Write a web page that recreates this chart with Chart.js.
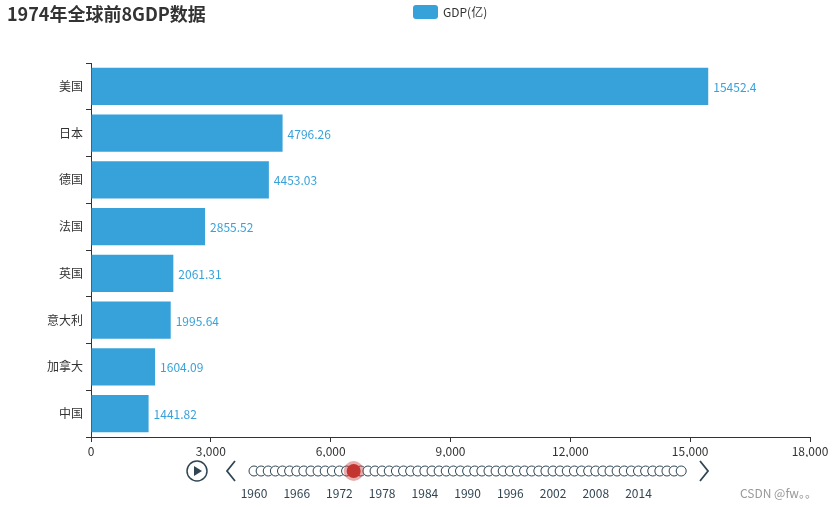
<!DOCTYPE html>
<html>
<head>
<meta charset="utf-8">
<script src="https://cdn.jsdelivr.net/npm/chart.js@4"></script>
<style>
    body { margin: 0; background: #fff; }
    #wrap { width: 837px; height: 507px; }
</style>
</head>
<body>
<div id="wrap"><canvas id="gdpChart" width="837" height="507"></canvas></div>
<script>
// 数据
const countries = ['美国', '日本', '德国', '法国', '英国', '意大利', '加拿大', '中国'];
const gdpValues = [15452.4, 4796.26, 4453.03, 2855.52, 2061.31, 1995.64, 1604.09, 1441.82];
const timelineYears = [];
for (let y = 1960; y <= 2020; y++) timelineYears.push(y);
const currentYear = 1974;

const FONT = '"Noto Sans CJK SC", "Microsoft YaHei", sans-serif';
const BAR_COLOR = '#37a2da';

// 标题、图例、数值标签、时间轴
const decorPlugin = {
    id: 'decor',
    afterDraw(chart) {
        const ctx = chart.ctx;
        ctx.save();

        ctx.fillStyle = '#333';
        ctx.font = 'bold 18px ' + FONT;
        ctx.textBaseline = 'middle';
        ctx.textAlign = 'left';
        ctx.fillText(currentYear + '年全球前8GDP数据', 7, 14);

        ctx.fillStyle = BAR_COLOR;
        ctx.beginPath();
        ctx.roundRect(413, 5, 25, 14, 3);
        ctx.fill();
        ctx.fillStyle = '#333';
        ctx.font = '12px ' + FONT;
        ctx.fillText('GDP(亿)', 443, 12);

        // 数值标签
        const meta = chart.getDatasetMeta(0);
        ctx.fillStyle = BAR_COLOR;
        meta.data.forEach((bar, i) => {
            ctx.fillText(String(gdpValues[i]), bar.x + 5, bar.y + 1);
        });

        // 时间轴
        const cy = 471;
        ctx.strokeStyle = '#304654';
        ctx.lineWidth = 1.5;
        ctx.beginPath();
        ctx.arc(197, cy, 10, 0, Math.PI * 2);
        ctx.stroke();
        ctx.fillStyle = '#304654';
        ctx.beginPath();
        ctx.moveTo(194, cy - 5);
        ctx.lineTo(202, cy);
        ctx.lineTo(194, cy + 5);
        ctx.closePath();
        ctx.fill();

        ctx.lineWidth = 1.8;
        ctx.beginPath();
        ctx.moveTo(235, cy - 10); ctx.lineTo(227, cy); ctx.lineTo(235, cy + 10);
        ctx.moveTo(700, cy - 10); ctx.lineTo(708, cy); ctx.lineTo(700, cy + 10);
        ctx.stroke();

        const x0 = 254, step = 7.12;
        ctx.lineWidth = 1;
        timelineYears.forEach((y, i) => {
            const x = x0 + i * step;
            ctx.fillStyle = '#fff';
            ctx.beginPath();
            ctx.arc(x, cy, 5, 0, Math.PI * 2);
            ctx.fill();
            ctx.stroke();
        });
        ctx.textAlign = 'center';
        ctx.font = '12px ' + FONT;
        ctx.fillStyle = '#304654';
        timelineYears.forEach((y, i) => {
            if ((y - 1960) % 6 === 0 && y <= 2014) {
                ctx.fillText(String(y), x0 + i * step, 493);
            }
        });
        const cx = x0 + timelineYears.indexOf(currentYear) * step;
        ctx.fillStyle = 'rgba(194, 53, 49, 0.4)';
        ctx.beginPath();
        ctx.arc(cx, cy, 10, 0, Math.PI * 2);
        ctx.fill();
        ctx.fillStyle = '#c23531';
        ctx.beginPath();
        ctx.arc(cx, cy, 7, 0, Math.PI * 2);
        ctx.fill();

        ctx.fillStyle = '#999';
        ctx.textAlign = 'left';
        ctx.fillText('CSDN @fw。。', 740, 493);
        ctx.restore();
    }
};

new Chart(document.getElementById('gdpChart'), {
    type: 'bar',
    data: {
        labels: countries,
        datasets: [{
            label: 'GDP(亿)',
            data: gdpValues,
            backgroundColor: BAR_COLOR,
            barPercentage: 0.8,
            categoryPercentage: 1
        }]
    },
    options: {
        indexAxis: 'y',
        responsive: false,
        animation: false,
        layout: { padding: { top: 63, right: 27, bottom: 50, left: 0 } },
        plugins: {
            legend: { display: false },
            tooltip: { enabled: false }
        },
        scales: {
            x: {
                min: 0,
                max: 18000,
                ticks: {
                    stepSize: 3000,
                    color: '#333',
                    font: { family: FONT, size: 12 },
                    padding: 2,
                    callback: v => v.toLocaleString('en-US')
                },
                grid: { drawOnChartArea: false, color: '#333', tickLength: 5 },
                border: { color: '#333' },
                afterFit(scale) { scale.height = 20; }
            },
            y: {
                ticks: {
                    color: '#333',
                    font: { family: FONT, size: 12 },
                    padding: 3
                },
                grid: { drawOnChartArea: false, offset: true, color: '#333', tickLength: 5 },
                border: { color: '#333' },
                afterFit(scale) { scale.width = 91; }
            }
        }
    },
    plugins: [decorPlugin]
});
</script>
</body>
</html>
